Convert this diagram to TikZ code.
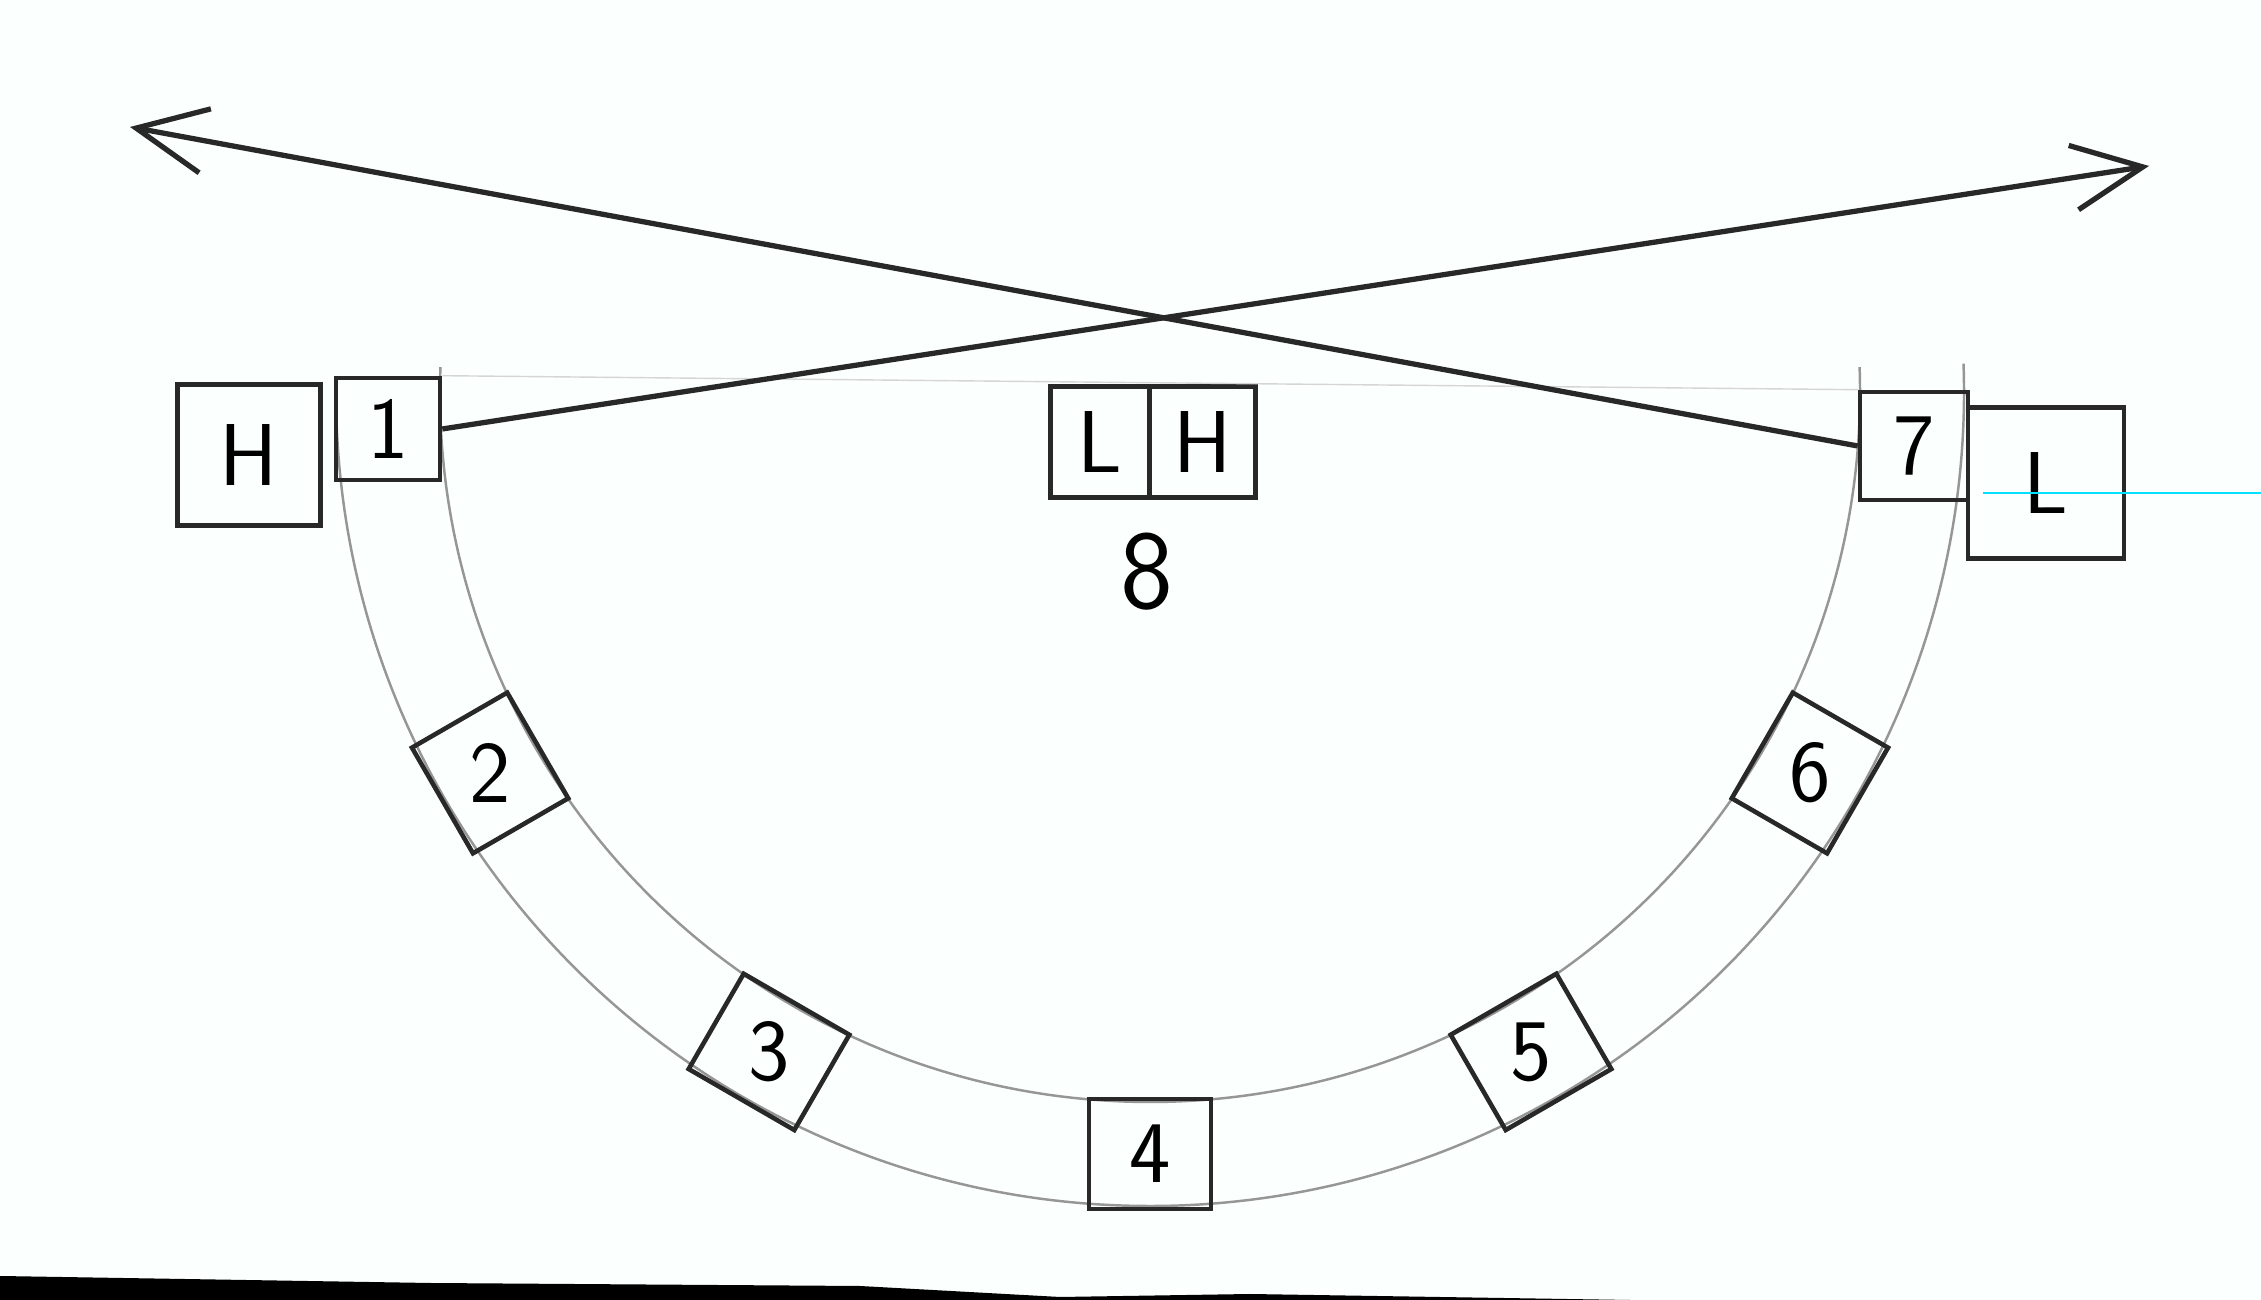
\documentclass[tikz,border=0pt]{standalone}
\usepackage{tikz}
\usetikzlibrary{positioning, arrows.meta}

\definecolor{paper}{RGB}{251,255,254}
\definecolor{pencil}{RGB}{40,40,40}
\definecolor{faint}{RGB}{150,150,150}
\definecolor{scanline}{RGB}{0,225,255}

\begin{document}
\begin{tikzpicture}[
    box/.style={shape=rectangle, draw=pencil, line width=1.3pt, inner sep=0pt, font=\sffamily\fontsize{25}{25}\selectfont},
    seg/.style={box, minimum width=1.22cm, minimum height=1.1cm},
    ray/.style={draw=pencil, line width=1.5pt, -{Straight Barb[length=7mm, width=6.5mm]}},
]
    \useasboundingbox[fill=paper] (0,0) rectangle (22.61,13);

    % the band
    \draw[faint, line width=0.7pt] (11.5,9.08) ++(178:7.10) arc[start angle=178, end angle=362, radius=7.10];
    \draw[faint, line width=0.7pt] (11.5,9.08) ++(180:8.14) arc[start angle=180, end angle=362, radius=8.14];

    \node[box, minimum width=1.43cm, minimum height=1.41cm] (hl) at (2.49, 8.45) {H};
    \node[box, minimum width=1.04cm, minimum height=1.02cm] (b1) at (3.88, 8.71) {1};
    \node[box, minimum width=0.99cm, minimum height=1.11cm] (l8) at (11.0, 8.58) {L};
    \node[box, minimum width=1.06cm, minimum height=1.11cm, right=-1.3pt of l8] (h8) {H};
    \node[font=\sffamily\fontsize{32}{32}\selectfont] (n8) at (11.47, 7.28) {8};
    \node[box, minimum width=1.08cm, minimum height=1.08cm] (b7) at (19.14, 8.54) {7};
    \node[box, minimum width=1.56cm, minimum height=1.51cm] (lr) at (20.46, 8.17) {L};

    \begin{scope}[shift={(11.5,9.08)}]
        \node[seg, rotate=-60] (b2) at (210:7.62) {\rotatebox{60}{2}};
        \node[seg, rotate=-30] (b3) at (240:7.62) {\rotatebox{30}{3}};
        \node[seg] (b4) at (270:7.62) {4};
        \node[seg, rotate=30] (b5) at (300:7.62) {\rotatebox{-30}{5}};
        \node[seg, rotate=60] (b6) at (330:7.62) {\rotatebox{-60}{6}};
    \end{scope}

    % guide line and arrows
    \draw[faint!40, line width=0.4pt] (b1.north east) -- (b7.north west);

    \coordinate (tl) at (1.30, 11.73);
    \coordinate (tr) at (21.49, 11.34);
    \draw[ray] (b1.east) -- (tr);
    \draw[ray] (b7.west) -- (tl);

    % scan marks
    \draw[scanline, line width=0.6pt] (19.83, 8.07) -- (22.61, 8.07);
    \fill[black] (0,0.24) -- (4.3,0.17) -- (8.6,0.14) -- (10.6,0.03) -- (12.5,0.06) -- (16.3,0) -- (0,0) -- cycle;
\end{tikzpicture}
\end{document}
